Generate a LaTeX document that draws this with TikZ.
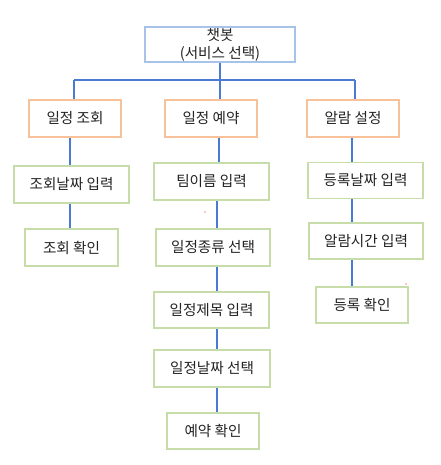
\documentclass[tikz,border=0pt]{standalone}
\usepackage{fontspec}
\setmainfont{Noto Sans CJK KR}
\definecolor{topc}{HTML}{A7C3E8}
\definecolor{orc}{HTML}{F7C29A}
\definecolor{grc}{HTML}{C6DDAA}
\definecolor{linec}{HTML}{4A7BD3}
\definecolor{txt}{HTML}{222222}
\begin{document}
\begin{tikzpicture}[x=1pt,y=-1pt,
  box/.style={draw, line width=1.6pt, inner sep=0pt, font=\fontsize{14.6}{18}\selectfont, text=txt, align=center},
  topbox/.style={box, draw=topc},
  obox/.style={box, draw=orc, minimum width=92pt, minimum height=37pt},
  gbox/.style={box, draw=grc, minimum height=37pt},
  conn/.style={draw=linec, line width=1.1pt}]
\useasboundingbox (0,0) rectangle (440,465);
\node[topbox, minimum width=150pt, minimum height=35pt] (top) at (220,44.5) {챗봇\\(서비스 선택)};
% level 1
\node[obox] (a1) at (75,118.5) {일정 조회};
\node[obox] (b1) at (211,118.5) {일정 예약};
\node[obox] (c1) at (353,118.5) {알람 설정};
% left column
\node[gbox, minimum width=115pt] (a2) at (71.5,184.5) {조회날짜 입력};
\node[gbox, minimum width=93pt] (a3) at (71.5,247.5) {조회 확인};
% middle column
\node[gbox, minimum width=115pt] (b2) at (211.5,181.5) {팀이름 입력};
\node[gbox, minimum width=114pt] (b3) at (213,247.5) {일정종류 선택};
\node[gbox, minimum width=115pt, minimum height=36pt] (b4) at (211.5,310) {일정제목 입력};
\node[gbox, minimum width=116pt] (b5) at (212,368.5) {일정날짜 선택};
\node[gbox, minimum width=92pt, minimum height=36pt] (b6) at (213,431) {예약 확인};
% right column
\node[gbox, minimum width=115pt, minimum height=36pt] (c2) at (365.5,180.5) {등록날짜 입력};
\node[gbox, minimum width=114pt, minimum height=36pt] (c3) at (366,241) {알람시간 입력};
\node[gbox, minimum width=92pt, minimum height=36pt] (c4) at (362,305) {등록 확인};
% column line positions
\coordinate (xa) at (74,80);
\coordinate (xb) at (220,80);
\coordinate (xc) at (355,80);
\coordinate (la) at (70,0);
\coordinate (lb1) at (219,0);
\coordinate (lb) at (217,0);
\coordinate (lc) at (352,0);
% bus
\draw[conn] (top.south) -- (xb);
\draw[conn] (xa) -- (xc);
\draw[conn] (xa) -- (a1.north -| xa);
\draw[conn] (xb) -- (b1.north -| xb);
\draw[conn] (xc) -- (c1.north -| xc);
% left
\draw[conn] (a1.south -| la) -- (a2.north -| la);
\draw[conn] (a2.south -| la) -- (a3.north -| la);
% middle
\draw[conn] (b1.south -| lb1) -- (b2.north -| lb1);
\draw[conn] (b2.south -| lb) -- (b3.north -| lb);
\draw[conn] (b3.south -| lb) -- (b4.north -| lb);
\draw[conn] (b4.south -| lb) -- (b5.north -| lb);
\draw[conn] (b5.south -| lb) -- (b6.north -| lb);
% right
\draw[conn] (c1.south -| lc) -- (c2.north -| lc);
\draw[conn] (c2.south -| lc) -- (c3.north -| lc);
\draw[conn] (c3.south -| lc) -- (c4.north -| lc);
% tiny red dots
\fill[red] (205,212) circle (0.6pt);
\fill[red] (406,284) circle (0.6pt);
\end{tikzpicture}
\end{document}
